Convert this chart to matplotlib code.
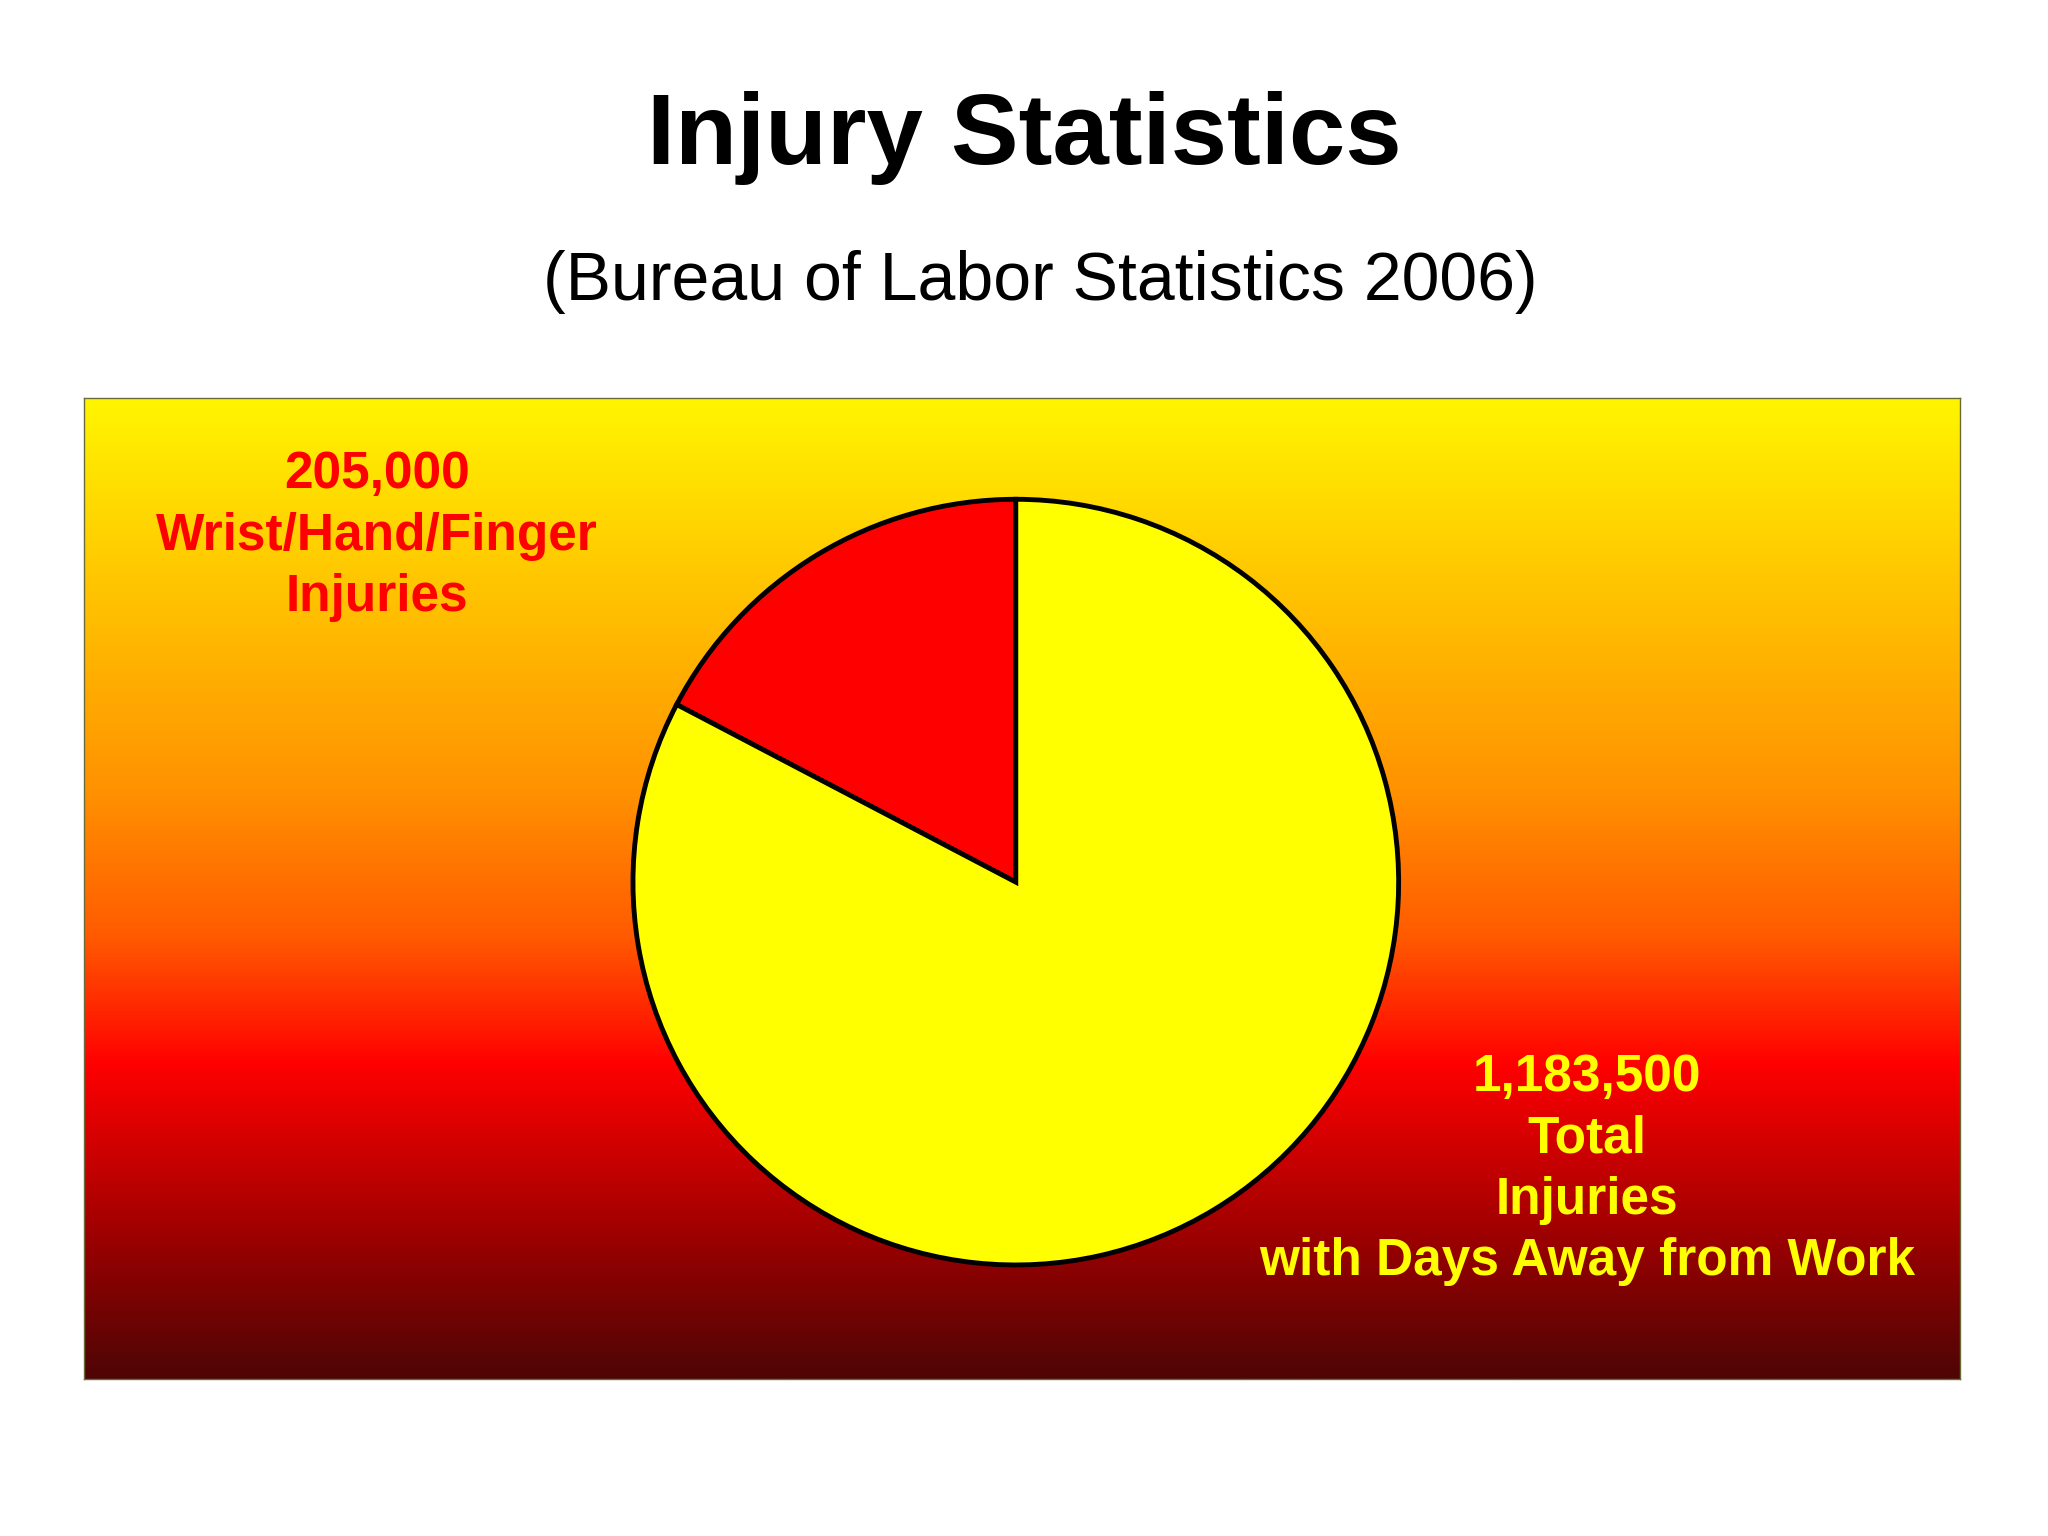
import numpy as np
import matplotlib.pyplot as plt
from matplotlib.colors import LinearSegmentedColormap

# data (BLS 2006)
total_injuries = 1183500
hand_injuries = 205000
slice_values = [hand_injuries, total_injuries - hand_injuries]
slice_colors = ['#FF0000', '#FFFF00']

hand_label = "205,000\nWrist/Hand/Finger\nInjuries"
total_label = "1,183,500\nTotal\nInjuries\nwith Days Away from Work"

plt.rcParams['font.family'] = ['Liberation Sans', 'DejaVu Sans']

fig = plt.figure(figsize=(20.48, 15.36), dpi=100)
fig.patch.set_facecolor('white')

# titles
fig.text(0.500, 0.893, "Injury Statistics", ha='center', va='baseline',
         fontsize=73, fontweight='bold', color='black')
fig.text(0.508, 0.805, "(Bureau of Labor Statistics 2006)", ha='center', va='baseline',
         fontsize=49, color='black')

# gradient background panel
bg = fig.add_axes([0.041, 0.102, 0.916, 0.639])
grad = LinearSegmentedColormap.from_list('bg', [
    (0.0, '#FFF500'), (0.15, '#FFCF00'), (0.4, '#FF9200'),
    (0.55, '#FF5A00'), (0.68, '#FF0000'), (0.85, '#A00000'), (1.0, '#4E0505')])
g = np.linspace(0, 1, 512).reshape(-1, 1)
bg.imshow(g, cmap=grad, aspect='auto', extent=[0, 1, 0, 1])
bg.set_xticks([])
bg.set_yticks([])
for s in bg.spines.values():
    s.set_color('#6b6b3a')
    s.set_linewidth(1)

# pie
r_w = 0.1888
r_h = r_w * 2048 / 1536
pax = fig.add_axes([0.496 - r_w, 0.4257 - r_h, 2 * r_w, 2 * r_h])
pax.pie(slice_values, colors=slice_colors, startangle=90, counterclock=True,
        radius=1, wedgeprops=dict(edgecolor='black', linewidth=3.5))
pax.set_xlim(-1.01, 1.01)
pax.set_ylim(-1.01, 1.01)
pax.set_aspect('equal')
pax.axis('off')

# labels
fig.text(0.184, 0.651, hand_label, ha='center', va='center', fontsize=37,
         fontweight='bold', color='#FF0000', linespacing=1.32)
fig.text(0.775, 0.2385, total_label, ha='center', va='center', fontsize=37,
         fontweight='bold', color='#FFFF00', linespacing=1.32)

fig.savefig('out.png', dpi=100)
